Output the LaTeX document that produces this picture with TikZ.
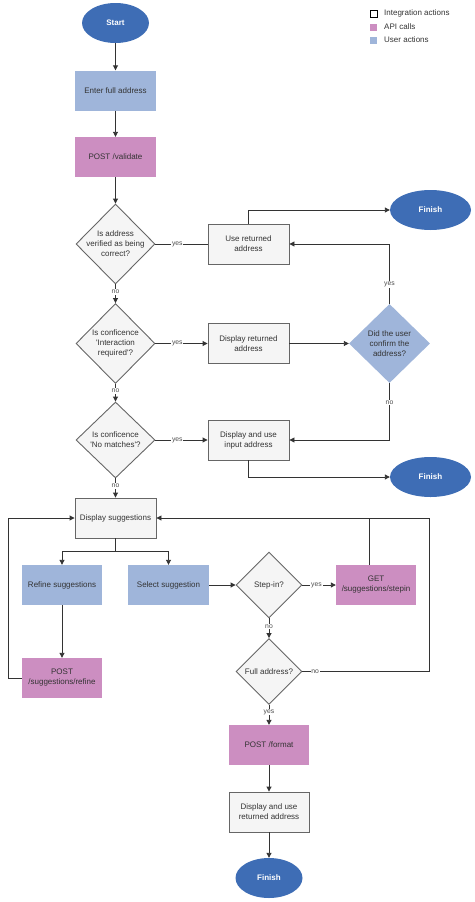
\documentclass[tikz,border=0pt]{standalone}
\usepackage{fontspec}
\setmainfont{Liberation Sans}
\usetikzlibrary{shapes.geometric,arrows.meta}
\definecolor{userc}{HTML}{9FB5DA}
\definecolor{apic}{HTML}{CC8EC1}
\definecolor{intc}{HTML}{F5F5F5}
\definecolor{intd}{HTML}{666666}
\definecolor{ellc}{HTML}{3E6DB5}
\definecolor{linec}{HTML}{333333}
\definecolor{txtc}{HTML}{333333}
\begin{document}
\begin{tikzpicture}[x=1pt,y=-1pt,
  base/.style={font=\fontsize{8}{10}\selectfont, text=txtc, align=center, inner sep=1pt},
  userbox/.style={base, rectangle, fill=userc, minimum width=81pt, minimum height=40pt},
  apibox/.style={base, rectangle, fill=apic, minimum width=81pt, minimum height=40pt},
  intbox/.style={base, rectangle, fill=intc, draw=intd, line width=0.9pt, minimum width=81pt, minimum height=40pt},
  term/.style={base, ellipse, fill=ellc, text=white, font=\fontsize{8}{10}\selectfont\bfseries, minimum width=67pt, minimum height=40pt},
  dec/.style={diamond, fill=intc, draw=intd, line width=0.9pt, inner sep=0pt},
  dectext/.style={base},
  conn/.style={draw=linec, line width=0.9pt},
  arr/.style={conn, -{Triangle[length=5pt,width=5pt]}},
  lbl/.style={font=\fontsize{6.8}{8}\selectfont, text=black!70, fill=white, inner sep=0.8pt},
  legsq/.style={minimum size=7pt, inner sep=0pt},
  legtxt/.style={font=\fontsize{8}{9}\selectfont, text=txtc, anchor=west, inner sep=0pt}
]
\useasboundingbox (0,0) rectangle (474,902);

% legend
\node[legsq, fill=white, draw=black, line width=0.7pt] (lg1) at (373.5,13.5) {};
\node[legtxt] (lt1) at (384,13.5) {Integration actions};
\node[legsq, fill=apic] (lg2) at (373.5,27) {};
\node[legtxt] (lt2) at (384,27) {API calls};
\node[legsq, fill=userc] (lg3) at (373.5,40) {};
\node[legtxt] (lt3) at (384,40) {User actions};

% main column
\node[term] (start) at (115.5,23) {Start};
\node[userbox] (enter) at (115.5,90.5) {Enter full address};
\node[apibox] (postv) at (115.5,157) {POST /validate};
\node[dec, minimum width=79pt, minimum height=80pt] (d1) at (115.5,244) {};
\node[dectext] (d1t) at (d1.center) {Is address\\verified as being\\correct?};
\node[dec, minimum width=79pt, minimum height=80pt] (d2) at (115.5,343.5) {};
\node[dectext] (d2t) at (d2.center) {Is conficence\\\textquotesingle Interaction\\required\textquotesingle?};
\node[dec, minimum width=79pt, minimum height=76pt] (d3) at (115.5,440) {};
\node[dectext] (d3t) at (d3.center) {Is conficence\\\textquotesingle No matches\textquotesingle?};

\node[intbox] (use) at (248.5,244) {Use returned\\address};
\node[intbox] (disp) at (248.5,343.5) {Display returned\\address};
\node[intbox] (dinp) at (248.5,440) {Display and use\\input address};

\node[term, minimum width=81pt] (fin1) at (430.5,210) {Finish};
\node[term, minimum width=81pt] (fin2) at (430.5,477) {Finish};
\node[diamond, fill=userc, inner sep=0pt, minimum width=81pt, minimum height=79pt] (du) at (389.5,343.5) {};
\node[dectext] (dut) at (du.center) {Did the user\\confirm the\\address?};

\node[intbox] (dsug) at (115.5,518) {Display suggestions};
\node[userbox, minimum width=80pt] (refine) at (62,585) {Refine suggestions};
\node[userbox] (select) at (168.5,585) {Select suggestion};
\node[apibox, minimum width=80pt] (prefine) at (62,678) {POST\\/suggestions/refine};
\node[dec, minimum width=66pt, minimum height=66pt] (step) at (269,585) {};
\node[dectext] (stept) at (step.center) {Step-in?};
\node[apibox, minimum width=80pt] (get) at (376,585) {GET\\/suggestions/stepin};
\node[dec, minimum width=66pt, minimum height=66pt] (full) at (269,671.5) {};
\node[dectext] (fullt) at (full.center) {Full address?};
\node[apibox, minimum width=80pt] (pformat) at (269,745) {POST /format};
\node[intbox, minimum width=80pt] (dret) at (269,812) {Display and use\\returned address};
\node[term] (fin3) at (269,878) {Finish};

% helper coordinates
\coordinate (split) at (115.5,551);
\coordinate (gettop) at (369,565);
\coordinate (getup) at (369,518);
\coordinate (rloop) at (429,518);
\coordinate (lloop) at (8,678);

% connectors
\draw[arr] (start) -- (enter);
\draw[arr] (enter) -- (postv);
\draw[arr] (postv) -- (d1);
\draw[conn] (d1.east) -- node[lbl, pos=0.42] {yes} (use.west);
\draw[arr] (use.north) |- (fin1.west);
\draw[arr] (d1.south) -- node[lbl, pos=0.4] {no} (d2.north);
\draw[arr] (d2.east) -- node[lbl, pos=0.42] {yes} (disp.west);
\draw[arr] (disp.east) -- (du.west);
\draw[arr] (du.north) |- node[lbl, pos=0.16] {yes} (use.east);
\draw[arr] (du.south) |- node[lbl, pos=0.17] {no} (dinp.east);
\draw[arr] (d2.south) -- node[lbl, pos=0.4] {no} (d3.north);
\draw[arr] (d3.east) -- node[lbl, pos=0.42] {yes} (dinp.west);
\draw[arr] (dinp.south) |- (fin2.west);
\draw[arr] (d3.south) -- node[lbl, pos=0.4] {no} (dsug.north);
\draw[conn] (dsug.south) -- (split);
\draw[arr] (split) -| (refine.north);
\draw[arr] (split) -| (select.north);
\draw[arr] (select.east) -- (step.west);
\draw[arr] (step.east) -- node[lbl, pos=0.42] {yes} (get.west);
\draw[conn] (gettop) -- (getup);
\draw[arr] (full.east) -- node[lbl, pos=0.1] {no} (full.east -| rloop) -- (rloop) -- (dsug.east);
\draw[arr] (step.south) -- node[lbl, pos=0.4] {no} (full.north);
\draw[arr] (full.south) -- node[lbl, pos=0.35] {yes} (pformat.north);
\draw[arr] (pformat) -- (dret);
\draw[arr] (dret) -- (fin3);
\draw[arr] (refine) -- (prefine);
\draw[arr] (prefine.west) -- (lloop) |- (dsug.west);
\end{tikzpicture}
\end{document}
